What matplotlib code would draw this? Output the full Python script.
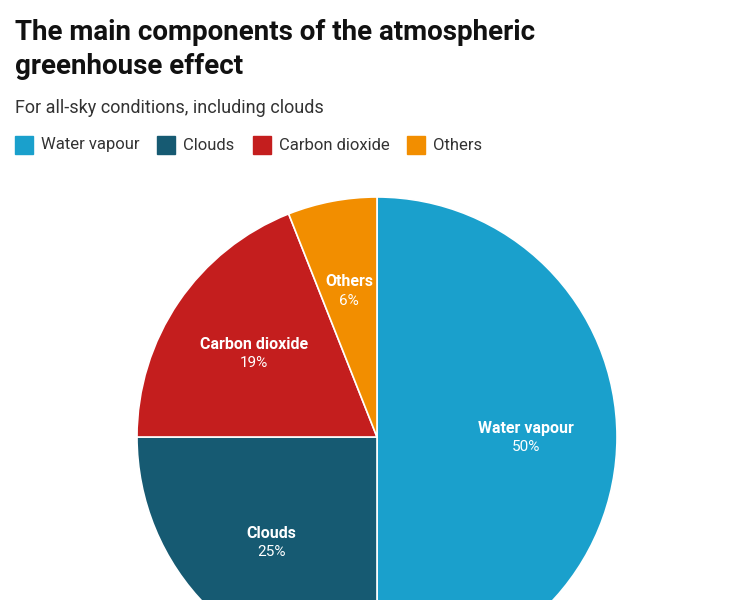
import matplotlib
matplotlib.use("Agg")
import matplotlib.pyplot as plt
from matplotlib.patches import Rectangle
import numpy as np

categories = ["Water vapour", "Clouds", "Carbon dioxide", "Others"]
values = [50, 25, 19, 6]
colors = ["#1aa0cc", "#165a72", "#c41e1e", "#f28e00"]

plt.rcParams['font.family'] = ['Roboto', 'DejaVu Sans']
fig = plt.figure(figsize=(7.54, 6.0), dpi=100)
ax = fig.add_axes([0, 0, 1, 1])
ax.set_xlim(0, 754); ax.set_ylim(0, 600); ax.set_aspect('equal'); ax.axis('off')

cx, cy, r = 377, 600 - 437, 240
wedges, _ = ax.pie(values, colors=colors, startangle=90, counterclock=False,
                   center=(cx, cy), radius=r, frame=True,
                   wedgeprops=dict(edgecolor='white', linewidth=1.2))
ax.set_xlim(0, 754); ax.set_ylim(0, 600); ax.axis('off')
for w, name, v in zip(wedges, categories, values):
    a = np.deg2rad((w.theta1 + w.theta2) / 2)
    x, y = cx + 0.62 * r * np.cos(a), cy + 0.62 * r * np.sin(a)
    ax.text(x, y + 9, name, color='white', fontsize=11.5, fontweight='bold', ha='center', va='center')
    ax.text(x, y - 10, f"{v}%", color='white', fontsize=11, ha='center', va='center')

fig.text(15/754, 1 - 32/600, "The main components of the atmospheric", fontsize=20, fontweight='bold', va='center', color='#111111')
fig.text(15/754, 1 - 67/600, "greenhouse effect", fontsize=20, fontweight='bold', va='center', color='#111111')
fig.text(15/754, 1 - 108/600, "For all-sky conditions, including clouds", fontsize=13, va='center', color='#333333')

xs = [15, 157, 253, 407]
for x0, name, c in zip(xs, categories, colors):
    ax.add_patch(Rectangle((x0, 600 - 154), 18, 18, color=c, clip_on=False))
    ax.text(x0 + 26, 600 - 145, name, fontsize=12, va='center', color='#333333')

fig.savefig("out.png", dpi=100)
